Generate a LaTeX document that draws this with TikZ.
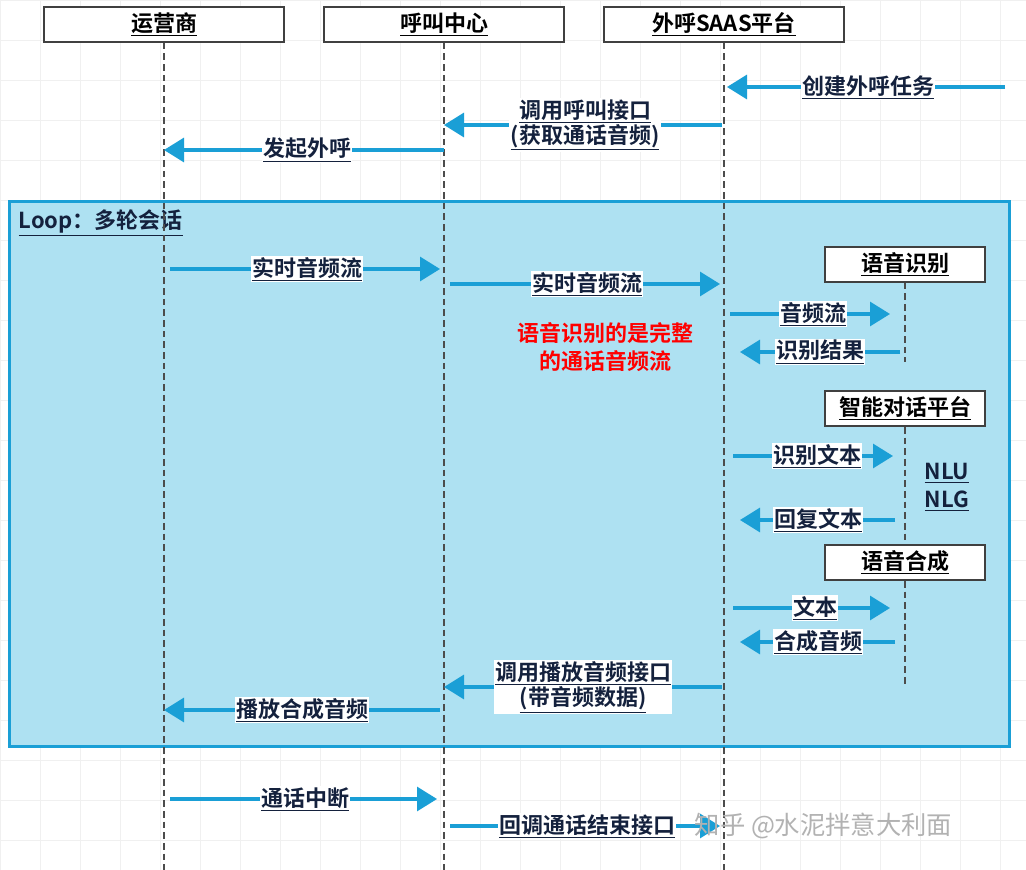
\documentclass[tikz,border=0pt]{standalone}
\usepackage{fontspec}
\setmainfont{Noto Sans CJK SC}[BoldFont={Noto Sans CJK SC Bold}]
\usetikzlibrary{arrows.meta}
\definecolor{arr}{HTML}{1A9FD6}
\definecolor{loopfill}{HTML}{AEE1F2}
\definecolor{txt}{HTML}{14213D}
\tikzset{x=0.75pt,y=-0.75pt,
 hdr/.style={draw=black!75,line width=1.5pt,fill=white,minimum height=26pt,inner sep=0pt,font=\bfseries\fontsize{16.5}{19}\selectfont,text=black},
 life/.style={dash pattern=on 5pt off 3pt,draw=black!70,line width=1.3pt},
 msg/.style={draw=arr,line width=2.4pt,-{Triangle[length=15pt,width=18pt]}},
 lbl/.style={fill=white,inner sep=1pt,text=txt,font=\bfseries\fontsize{16.5}{19}\selectfont,align=center}}
\newcommand{\ul}[1]{\underline{#1}}
\begin{document}
\begin{tikzpicture}
\useasboundingbox (0,0) rectangle (1026,870);
\fill[white] (0,0) rectangle (1026,870);
\foreach \i in {0,40,...,1026} \draw[black!6,line width=0.6pt] (\i,0)--(\i,870);
\foreach \j in {0,40,...,870} \draw[black!6,line width=0.6pt] (0,\j)--(1026,\j);
% loop box
\node[draw=arr,fill=loopfill,line width=2.2pt,minimum width=750pt,minimum height=408.75pt,inner sep=0pt,anchor=north west] (loop) at (8,200) {};
\node[anchor=west,text=txt,font=\bfseries\fontsize{16.5}{19}\selectfont] (looplbl) at (14,223) {\ul{Loop：多轮会话}};
% headers
\node[hdr,minimum width=180pt] (op) at (164,24.5) {\ul{运营商}};
\node[hdr,minimum width=180pt] (cc) at (444,24.5) {\ul{呼叫中心}};
\node[hdr,minimum width=180pt] (saas) at (724,24.5) {\ul{外呼SAAS平台}};
\coordinate (opE) at (164,870); \coordinate (ccE) at (444,870); \coordinate (saasE) at (724,870);
\draw[life] (op.south)--(opE); \draw[life] (cc.south)--(ccE); \draw[life] (saas.south)--(saasE);
% sub boxes
\node[hdr,minimum width=120pt] (asr) at (905,264.5) {\ul{语音识别}};
\node[hdr,minimum width=120pt] (dlg) at (905,408.5) {\ul{智能对话平台}};
\node[hdr,minimum width=120pt] (tts) at (905,562.5) {\ul{语音合成}};
\coordinate (asrE) at (905,362); \coordinate (dlgE) at (905,540); \coordinate (ttsE) at (905,685);
\draw[life] (asr.south)--(asrE); \draw[life] (dlg.south)--(dlgE); \draw[life] (tts.south)--(ttsE);
% messages
\coordinate (a1) at (1005,87); \coordinate (b1) at (727,87);
\draw[msg] (a1)--(b1); \node[lbl] (l1) at (868,87) {\ul{创建外呼任务}};
\coordinate (a2) at (722,125); \coordinate (b2) at (444,125);
\draw[msg] (a2)--(b2); \node[lbl] (l2) at (585,125) {\ul{调用呼叫接口}\\\ul{(获取通话音频)}};
\coordinate (a3) at (444,150); \coordinate (b3) at (164,150);
\draw[msg] (a3)--(b3); \node[lbl] (l3) at (307,150) {\ul{发起外呼}};
\coordinate (a4) at (170,269); \coordinate (b4) at (440,269);
\draw[msg] (a4)--(b4); \node[lbl] (l4) at (307,269) {\ul{实时音频流}};
\coordinate (a5) at (450,284); \coordinate (b5) at (720,284);
\draw[msg] (a5)--(b5); \node[lbl] (l5) at (587,284) {\ul{实时音频流}};
\node[text=red,font=\bfseries\fontsize{16.5}{21}\selectfont,align=center] (note) at (605,347) {语音识别的是完整\\的通话音频流};
\coordinate (a6) at (730,314); \coordinate (b6) at (890,314);
\draw[msg] (a6)--(b6); \node[lbl] (l6) at (813,314) {\ul{音频流}};
\coordinate (a7) at (900,352); \coordinate (b7) at (740,352);
\draw[msg] (a7)--(b7); \node[lbl] (l7) at (820,352) {\ul{识别结果}};
\coordinate (a8) at (733,456); \coordinate (b8) at (893,456);
\draw[msg] (a8)--(b8); \node[lbl] (l8) at (817,456) {\ul{识别文本}};
\node[text=txt,font=\bfseries\fontsize{16.5}{21}\selectfont,align=center] (nlu) at (947,487) {\ul{NLU}\\\ul{NLG}};
\coordinate (a9) at (895,520); \coordinate (b9) at (740,520);
\draw[msg] (a9)--(b9); \node[lbl] (l9) at (818,520) {\ul{回复文本}};
\coordinate (a10) at (733,608); \coordinate (b10) at (890,608);
\draw[msg] (a10)--(b10); \node[lbl] (l10) at (815,608) {\ul{文本}};
\coordinate (a11) at (895,642); \coordinate (b11) at (740,642);
\draw[msg] (a11)--(b11); \node[lbl] (l11) at (818,642) {\ul{合成音频}};
\coordinate (a12) at (722,687); \coordinate (b12) at (444,687);
\draw[msg] (a12)--(b12); \node[lbl] (l12) at (583,687) {\ul{调用播放音频接口}\\\ul{(带音频数据)}};
\coordinate (a13) at (440,710); \coordinate (b13) at (164,710);
\draw[msg] (a13)--(b13); \node[lbl] (l13) at (302,710) {\ul{播放合成音频}};
\coordinate (a14) at (170,799); \coordinate (b14) at (437,799);
\draw[msg] (a14)--(b14); \node[lbl] (l14) at (305,799) {\ul{通话中断}};
\coordinate (a15) at (450,826); \coordinate (b15) at (720,826);
\draw[msg] (a15)--(b15); \node[lbl] (l15) at (587,826) {\ul{回调通话结束接口}};
\node[text=black!30,font=\fontsize{19}{22}\selectfont,anchor=west] (wm) at (690,826) {知乎 @水泥拌意大利面};
\end{tikzpicture}
\end{document}
